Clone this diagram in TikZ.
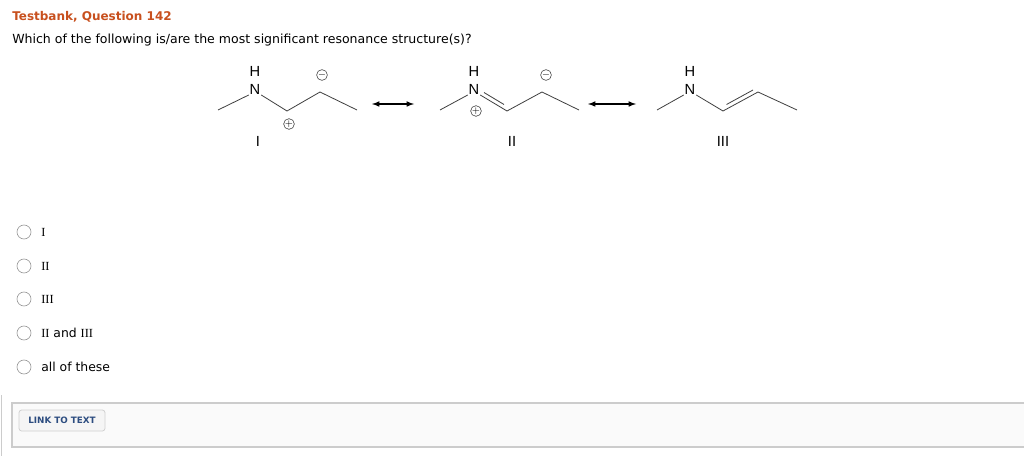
\documentclass[tikz,border=0pt]{standalone}
\usepackage{fontspec}
\setmainfont{DejaVu Sans}
\newfontfamily\serifnum{Liberation Serif}
\newfontfamily\chemfont{Liberation Sans}
\definecolor{ttl}{HTML}{C8501E}
\definecolor{lnkc}{HTML}{2D4D80}
\begin{document}
\begin{tikzpicture}[x=0.75pt,y=-0.75pt,
  bond/.style={draw=black!75,line width=0.6pt},
  atom/.style={font=\chemfont\fontsize{11}{12}\selectfont,inner sep=0.5pt},
  chg/.style={circle,draw=black!80,line width=0.4pt,inner sep=0pt,minimum size=7pt,font=\fontsize{7}{7}\selectfont},
  rlabel/.style={font=\chemfont\fontsize{11}{12}\selectfont},
  radio/.style={circle,draw=black!40,line width=0.5pt,fill=white,minimum size=10.5pt,inner sep=0pt},
  opt/.style={anchor=west,font=\fontsize{9.3}{11}\selectfont,inner sep=0pt},
  res/.style={<->,>=latex,line width=0.9pt}]
\useasboundingbox (0,0) rectangle (1024,456);
\fill[white] (0,0) rectangle (1024,456);
\node[anchor=west,inner sep=0pt,font=\bfseries\fontsize{9}{11}\selectfont,text=ttl] (title) at (12,17) {Testbank, Question 142};
\node[anchor=west,inner sep=0pt,font=\fontsize{9.4}{11}\selectfont] (q) at (12,40) {Which of the following is/are the most significant resonance structure(s)?};
% Structure I
\coordinate (a1) at (218,110);
\node[atom] (n1) at (255,89) {N};
\node[atom] (h1) at (255,71) {H};
\coordinate (b1) at (287,111);
\coordinate (c1) at (320,92);
\coordinate (d1) at (357,110);
\draw[bond] (a1) -- (n1.south west) (n1.south east) -- (b1) -- (c1) -- (d1);
\node[chg] (p1) at (289,124) {$+$};
\node[chg] (m1) at (322,75) {$-$};
\node[rlabel] (l1) at (258,141) {I};
% Structure II
\coordinate (a2) at (440,110);
\node[atom] (n2) at (474,89) {N};
\node[atom] (h2) at (474,71) {H};
\coordinate (b2) at (507,111);
\coordinate (c2) at (542,92);
\coordinate (d2) at (579,110);
\draw[bond] (a2) -- (n2.south west) (n2.south east) -- (b2) -- (c2) -- (d2);
\coordinate (e2a) at (484,92.5); \coordinate (e2b) at (504,104.5);
\draw[bond] (e2a) -- (e2b);
\node[chg] (p2) at (476,111) {$+$};
\node[chg] (m2) at (546,75) {$-$};
\node[rlabel] (l2) at (512,141) {II};
% Structure III
\coordinate (a3) at (657,110);
\node[atom] (n3) at (690,89) {N};
\node[atom] (h3) at (690,71) {H};
\coordinate (b3) at (723,111);
\coordinate (c3) at (758,92);
\coordinate (d3) at (797,110);
\draw[bond] (a3) -- (n3.south west) (n3.south east) -- (b3) -- (c3) -- (d3);
\coordinate (e3a) at (726.5,104.5); \coordinate (e3b) at (753,90);
\draw[bond] (e3a) -- (e3b);
\node[rlabel] (l3) at (723,141) {III};
% arrows
\coordinate (r1a) at (372,104); \coordinate (r1b) at (414,104);
\coordinate (r2a) at (588,104); \coordinate (r2b) at (636,104);
\draw[res] (r1a) -- (r1b);
\draw[res] (r2a) -- (r2b);
% options
\node[radio] (o1) at (24,232) {}; \node[opt] (t1) at (41,232) {\serifnum I};
\node[radio] (o2) at (24,266) {}; \node[opt] (t2) at (41,266) {\serifnum II};
\node[radio] (o3) at (24,299) {}; \node[opt] (t3) at (41,299) {\serifnum III};
\node[radio] (o4) at (24,333) {}; \node[opt] (t4) at (41,333) {{\serifnum II} and {\serifnum III}};
\node[radio] (o5) at (24,367) {}; \node[opt] (t5) at (41,367) {all of these};
% bottom panel
\draw[black!20,line width=0.6pt] (1,395) -- (1,456);
\filldraw[fill=black!2,draw=black!20,line width=0.8pt] (12,403) rectangle (1030,447);
\filldraw[fill=black!4,draw=black!18,line width=0.6pt,rounded corners=2pt] (19,410) rectangle (105,431);
\node[font=\bfseries\fontsize{6.6}{8}\selectfont,text=lnkc] (lnk) at (62,420.5) {LINK TO TEXT};
\end{tikzpicture}
\end{document}
